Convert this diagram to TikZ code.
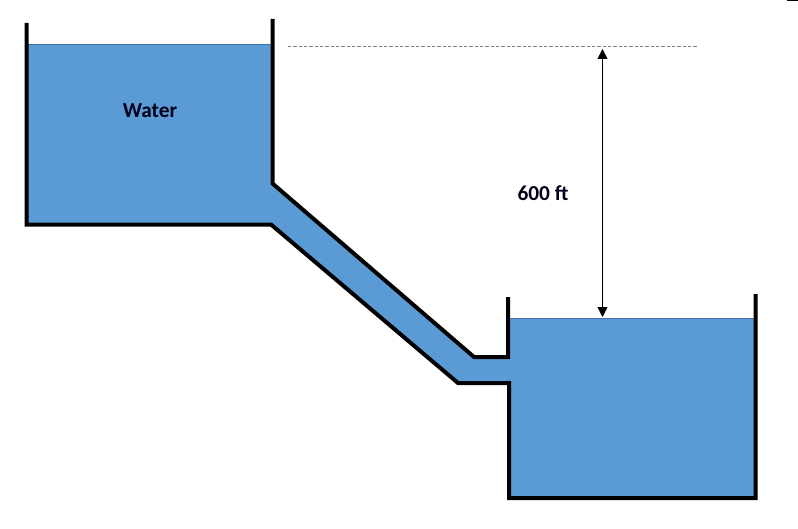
\documentclass[tikz,border=0pt]{standalone}
\usepackage{fontspec}
\setmainfont{Carlito}
\usepackage{xcolor}
\usetikzlibrary{arrows.meta}
\definecolor{waterblue}{HTML}{5B9BD5}
\definecolor{wateredge}{HTML}{41719C}
\tikzset{
    wall/.style={line width=3pt, line join=miter, line cap=butt},
    level/.style={draw=wateredge, line width=0.8pt},
    label/.style={font=\bfseries\fontsize{16}{18}\selectfont, text=black!90!blue},
    height/.style={{Triangle[length=7.5pt,width=7.5pt]}-{Triangle[length=7.5pt,width=7.5pt]}, line width=0.6pt}
}
\begin{document}
\begin{tikzpicture}[x=0.75pt,y=-0.75pt]
    \useasboundingbox (0,0) rectangle (798,528);

    % water in both tanks and the pipe
    \fill[waterblue] (27,44.5)--(272,44.5)--(272,183)--(474,357)--(508,357)--(508,318.5)--(755,318.5)--(755,498)--(508,498)--(508,383)--(458,383)--(271,224.5)--(27,224.5)--cycle;
    \draw[level] (27,44.5)--(272,44.5);
    \draw[level] (509,318.5)--(755,318.5);

    % upper tank and pipe walls
    \draw[wall] (26.5,23)--(26.5,224.5)--(271,224.5)--(458,383)--(509,383)--(509,498)--(755.5,498)--(755.5,294);
    \draw[wall] (272.5,19)--(272.5,183.5)--(474,357)--(508,357)--(508,297);

    % head between the two levels
    \draw[dashed, dash pattern=on 2.5pt off 1.5pt, gray, line width=0.6pt] (288,46)--(697,46);
    \coordinate (headtop) at (602.5,49);
    \coordinate (headbottom) at (602.5,317);
    \draw[height] (headtop)--(headbottom);

    \node[label] (water) at (150,111) {Water};
    \node[label] (head) at (543,193) {600 ft};

    % small mark in the corner
    \fill[black] (787,0) rectangle (798,1.5);
\end{tikzpicture}
\end{document}
